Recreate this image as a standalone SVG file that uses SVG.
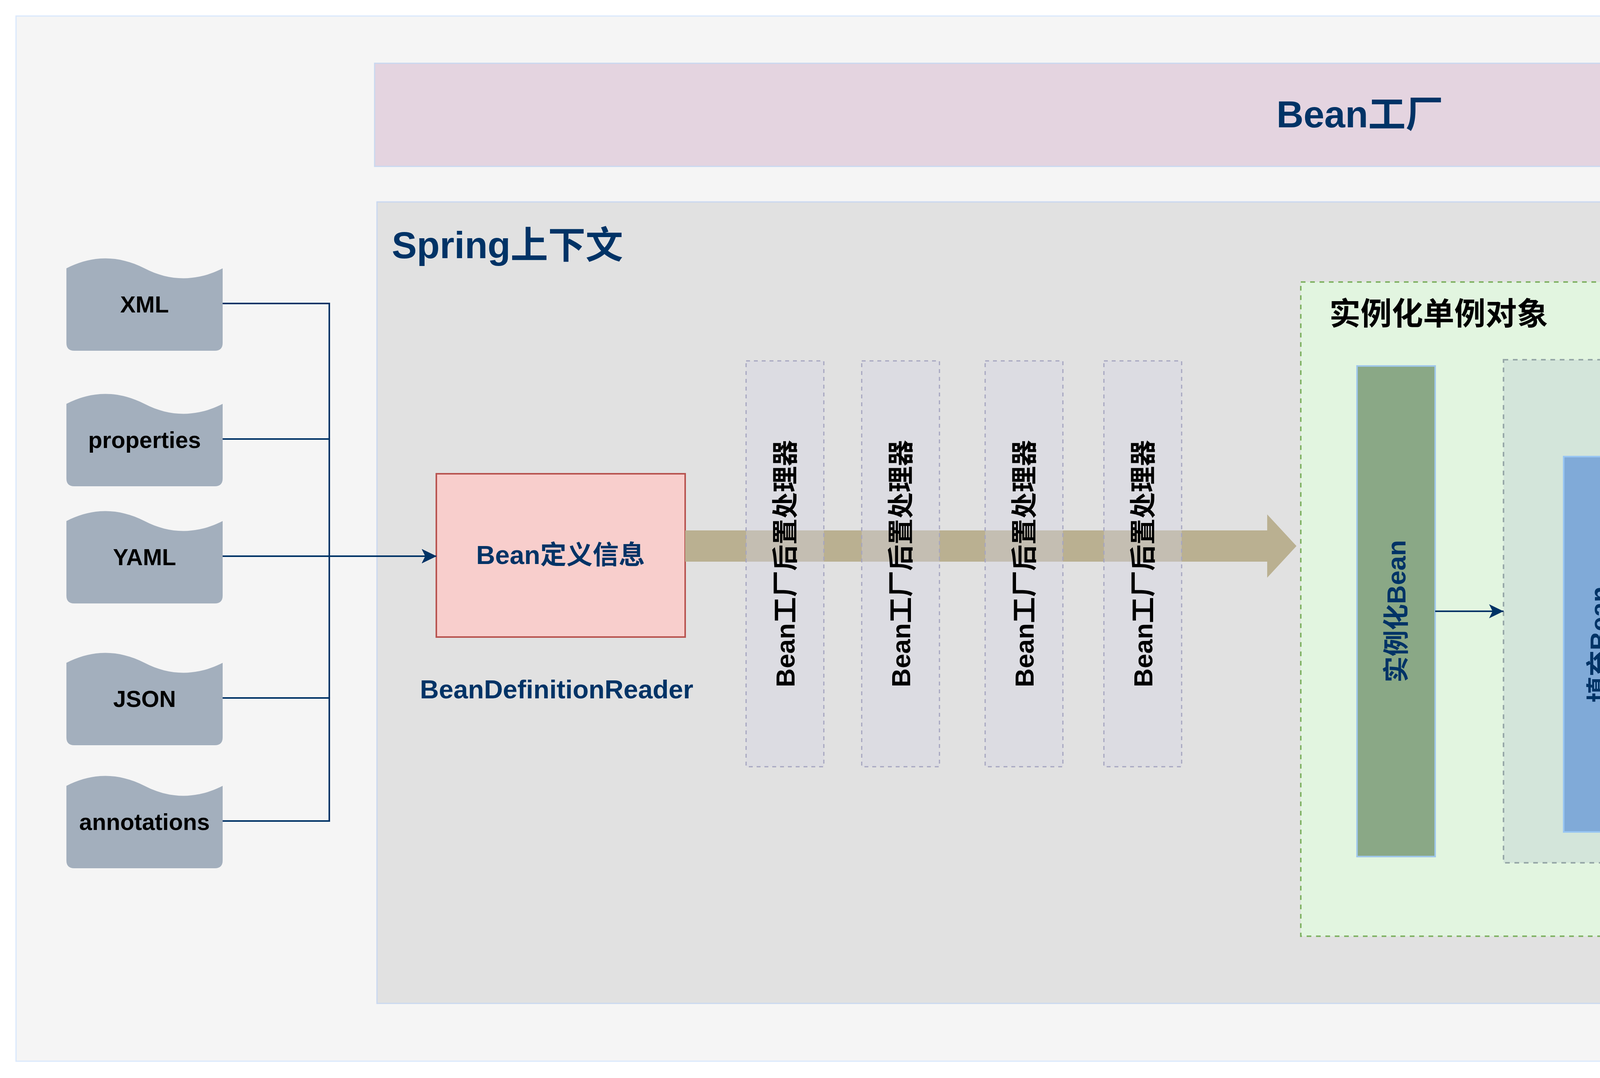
<svg xmlns="http://www.w3.org/2000/svg" width="6160" height="2760" viewBox="0 0 6160 2760">
<defs>
<style>
text{font-family:"Liberation Sans","Noto Sans CJK SC",sans-serif;font-weight:bold;}
.doc{fill:#a3afbd;stroke:none;}
.doct{font-size:59px;fill:#000;text-anchor:middle;}
.pp{fill:#d4d4e4;fill-opacity:0.4;stroke:#a5a5c0;stroke-width:3;stroke-dasharray:10 10;}
.ppt{font-size:67px;fill:#000;text-anchor:middle;}
.blue{fill:#80aad8;stroke:#99c6f2;stroke-width:4;}
.bt{font-size:67px;fill:#003366;text-anchor:middle;}
.edge{fill:none;stroke:#003366;stroke-width:4;}
</style>
<marker id="arr" viewBox="0 0 37 36" refX="37" refY="18" markerWidth="37" markerHeight="36" markerUnits="userSpaceOnUse" orient="auto">
<path d="M0,0 L37,18 L0,36 L9,18 Z" fill="#003366"/>
</marker>
<path id="docshape" d="M0,0 C66,-34 133,-34 200,0 C266,34 333,34 400,0 L400,191 Q400,211 380,211 L20,211 Q0,211 0,191 Z"/>
</defs>

<g id="background">
<rect x="41" y="41" width="6075" height="2676" fill="#f5f5f5" stroke="#dae8fc" stroke-width="3"/>
</g>

<g id="bean-factory">
<rect x="959" y="162" width="5044" height="264" fill="#e4d4e0" stroke="#c9d8f0" stroke-width="3"/>
<text x="3481" y="326" font-size="96" fill="#003366" text-anchor="middle">Bean工厂</text>
</g>

<g id="spring-context">
<rect x="965" y="517" width="5033" height="2052" fill="#e1e1e1" stroke="#c9d8f0" stroke-width="3"/>
<text x="1003" y="661" font-size="96" fill="#003366">Spring上下文</text>
</g>

<g id="doc-xml">
<use href="#docshape" class="doc" transform="translate(170,687)"/>
<text x="370" y="800" class="doct">XML</text>
</g>
<g id="doc-properties">
<use href="#docshape" class="doc" transform="translate(170,1034)"/>
<text x="370" y="1147" class="doct">properties</text>
</g>
<g id="doc-yaml">
<use href="#docshape" class="doc" transform="translate(170,1334)"/>
<text x="370" y="1447" class="doct">YAML</text>
</g>
<g id="doc-json">
<use href="#docshape" class="doc" transform="translate(170,1697)"/>
<text x="370" y="1810" class="doct">JSON</text>
</g>
<g id="doc-annotations">
<use href="#docshape" class="doc" transform="translate(170,2012)"/>
<text x="370" y="2125" class="doct">annotations</text>
</g>

<g id="bean-definition">
<rect x="1117" y="1213" width="637" height="418" fill="#f8cecc" stroke="#b85450" stroke-width="4"/>
<text x="1435" y="1444" font-size="67" fill="#003366" text-anchor="middle">Bean定义信息</text>
</g>

<g id="bean-definition-reader">
<text x="1425" y="1788" font-size="67" fill="#003366" text-anchor="middle">BeanDefinitionReader</text>
</g>

<g id="flow-arrow">
<polygon points="1754,1358 3244,1358 3244,1317 3319,1398 3244,1479 3244,1438 1754,1438" fill="#bab091"/>
</g>

<g id="bfpp-1">
<rect x="1910" y="924" width="199" height="1039" class="pp"/>
<text class="ppt" transform="translate(2010,1443) rotate(-90)" y="24">Bean工厂后置处理器</text>
</g>
<g id="bfpp-2">
<rect x="2206" y="924" width="199" height="1039" class="pp"/>
<text class="ppt" transform="translate(2306,1443) rotate(-90)" y="24">Bean工厂后置处理器</text>
</g>
<g id="bfpp-3">
<rect x="2522" y="924" width="199" height="1039" class="pp"/>
<text class="ppt" transform="translate(2622,1443) rotate(-90)" y="24">Bean工厂后置处理器</text>
</g>
<g id="bfpp-4">
<rect x="2826" y="924" width="199" height="1039" class="pp"/>
<text class="ppt" transform="translate(2926,1443) rotate(-90)" y="24">Bean工厂后置处理器</text>
</g>

<g id="singleton">
<rect x="3330" y="722" width="2476" height="1675" fill="#e2f5e0" stroke="#82b366" stroke-width="4" stroke-dasharray="12 12"/>
<text x="3403" y="831" font-size="80" fill="#000">实例化单例对象</text>
</g>

<g id="instantiate-bean">
<rect x="3474" y="937" width="200" height="1256" fill="#8aa886" stroke="#9fc7ea" stroke-width="4"/>
<text class="bt" transform="translate(3574,1565) rotate(-90)" y="24">实例化Bean</text>
</g>

<g id="init-bean">
<rect x="3849" y="921" width="1872" height="1288" fill="#d3e5da" stroke="#97a8a8" stroke-width="4" stroke-dasharray="12 12"/>
<text x="4785" y="1033" font-size="80" fill="#000" text-anchor="middle">初始化Bean</text>
</g>

<g id="populate-bean">
<rect x="4003" y="1169" width="182" height="961" class="blue"/>
<text class="bt" transform="translate(4094,1650) rotate(-90)" y="24">填充Bean</text>
</g>
<g id="aware">
<rect x="4357" y="1169" width="182" height="961" class="blue"/>
<text class="bt" transform="translate(4448,1650) rotate(-90)" y="24">调用Aware方法</text>
</g>
<g id="bpp-before">
<rect x="4711" y="1169" width="182" height="961" class="blue"/>
<text class="bt" transform="translate(4802,1650) rotate(-90)" y="24">Bean后置处理器</text>
</g>
<g id="init-method">
<rect x="5066" y="1169" width="182" height="961" class="blue"/>
<text class="bt" transform="translate(5157,1650) rotate(-90)" y="24">调用Init方法</text>
</g>
<g id="bpp-after">
<rect x="5419" y="1169" width="182" height="961" class="blue"/>
<text class="bt" transform="translate(5510,1650) rotate(-90)" y="24">Bean后置处理器</text>
</g>

<g id="connectors">
<path class="edge" d="M570,777 L843,777 L843,1424 L1117,1424" marker-end="url(#arr)"/>
<path class="edge" d="M570,1124 L843,1124 L843,1424 L1117,1424" marker-end="url(#arr)"/>
<path class="edge" d="M570,1424 L1117,1424" marker-end="url(#arr)"/>
<path class="edge" d="M570,1787 L843,1787 L843,1424 L1117,1424" marker-end="url(#arr)"/>
<path class="edge" d="M570,2102 L843,2102 L843,1424 L1117,1424" marker-end="url(#arr)"/>
<path class="edge" d="M3674,1565 L3849,1565" marker-end="url(#arr)"/>
<path class="edge" d="M4185,1650 L4357,1650" marker-end="url(#arr)"/>
<path class="edge" d="M4539,1650 L4711,1650" marker-end="url(#arr)"/>
<path class="edge" d="M4893,1650 L5066,1650" marker-end="url(#arr)"/>
<path class="edge" d="M5248,1650 L5419,1650" marker-end="url(#arr)"/>
</g>
</svg>
